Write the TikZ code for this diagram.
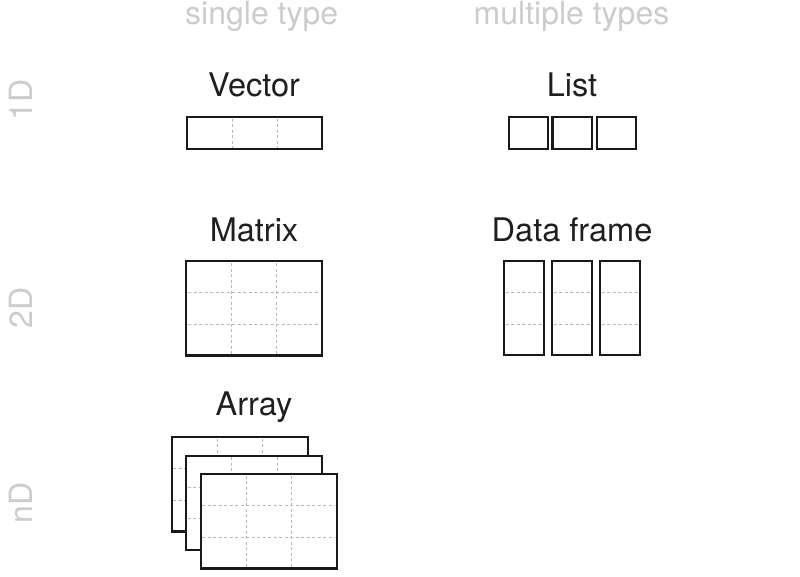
\documentclass[tikz,border=0pt]{standalone}
\usepackage{fontspec}
\setmainfont{TeX Gyre Heros}
\begin{document}
\begin{tikzpicture}[x=1pt,y=-1pt,
  box/.style={draw=black!90,line width=2.2pt},
  grid/.style={draw=black!28,line width=0.8pt,dash pattern=on 3pt off 2.5pt},
  head/.style={anchor=base,text=black!88,font=\fontsize{32.5}{33}\selectfont,inner sep=0pt},
  axis/.style={anchor=base,text=black!20,font=\fontsize{32}{33}\selectfont,inner sep=0pt},
  side/.style={axis,rotate=90}]
\useasboundingbox (0,0) rectangle (800,576);
\fill[white] (0,0) rectangle (800,576);

% column / row headings
\node[axis] (single) at (261.7,24) {single type};
\node[axis] (multi) at (571.5,24) {multiple types};
\node[side] (d1) at (32,100) {1D};
\node[side] (d2) at (32,308) {2D};
\node[side] (dn) at (32,503) {nD};

% titles
\node[head] (vec) at (254,96.7) {Vector};
\node[head] (lst) at (572,96.7) {List};
\node[head] (mat) at (254,241.7) {Matrix};
\node[head] (df) at (572,241.7) {Data frame};
\node[head] (arr) at (254,415) {Array};

% Vector
\draw[grid] (232,118.5) -- (232,148);
\draw[grid] (277,118.5) -- (277,148);
\draw[box] (187,117.3) rectangle (322,149);

% List
\draw[box] (509,117.3) rectangle (548,149);
\draw[box] (552.5,117.3) rectangle (592,149);
\draw[box] (597,117.3) rectangle (636,149);

% Matrix
\draw[grid] (231,263) -- (231,354);
\draw[grid] (276.3,263) -- (276.3,354);
\draw[grid] (188,292.7) -- (320,292.7);
\draw[grid] (188,324.2) -- (320,324.2);
\draw[box] (186.3,261) rectangle (322,355.5);

% Data frame
\foreach \x in {504.3,552.3,600.2}{
  \draw[grid] (\x+1.5,292.7) -- (\x+38,292.7);
  \draw[grid] (\x+1.5,324.2) -- (\x+38,324.2);
  \draw[box] (\x,260.8) rectangle (\x+39.6,355);
}

% Array
\foreach \i in {0,1,2}{
  \begin{scope}[shift={(171.7+14.5*\i,437.3+18.5*\i)}]
    \fill[white] (0,0) rectangle (136,94.2);
    \draw[grid] (45.3,1.5) -- (45.3,92.7);
    \draw[grid] (90.7,1.5) -- (90.7,92.7);
    \draw[grid] (1.5,31.4) -- (134.5,31.4);
    \draw[grid] (1.5,62.8) -- (134.5,62.8);
    \draw[box] (0,0) rectangle (136,94.2);
  \end{scope}
}
\end{tikzpicture}
\end{document}
